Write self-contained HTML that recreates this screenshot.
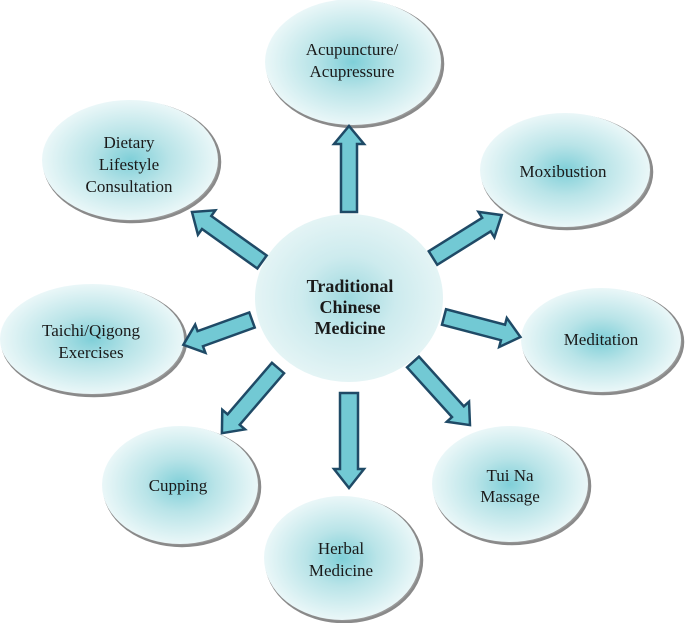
<!DOCTYPE html>
<html><head><meta charset="utf-8"><style>
html,body{margin:0;padding:0;background:#fff;}
svg{display:block;}
text{font-family:"Liberation Serif","Times New Roman","DejaVu Serif","Noto Serif CJK SC",serif;fill:#1a1a1a;font-size:17px;text-anchor:middle;}
</style></head><body>
<svg width="685" height="623" viewBox="0 0 685 623" xmlns="http://www.w3.org/2000/svg">
<defs>
<radialGradient id="g" cx="50%" cy="50%" r="50%">
<stop offset="0" stop-color="#7fcfd8"/>
<stop offset="0.45" stop-color="#b9e4e8"/>
<stop offset="1" stop-color="#eaf7f8"/>
</radialGradient>
<radialGradient id="gc" cx="50%" cy="50%" r="50%">
<stop offset="0" stop-color="#9ed9df"/>
<stop offset="0.5" stop-color="#cdebee"/>
<stop offset="1" stop-color="#e4f4f5"/>
</radialGradient>
</defs>
<g stroke="#8a8a8a" stroke-width="2.5">
<ellipse cx="355" cy="64" rx="88" ry="63" fill="#999"/>
<ellipse cx="567" cy="172" rx="85" ry="57" fill="#999"/>
<ellipse cx="603" cy="342" rx="80" ry="52" fill="#999"/>
<ellipse cx="512" cy="486" rx="78" ry="58" fill="#999"/>
<ellipse cx="344" cy="560" rx="78" ry="62" fill="#999"/>
<ellipse cx="182" cy="487" rx="78" ry="59" fill="#999"/>
<ellipse cx="94" cy="341" rx="92" ry="55" fill="#999"/>
<ellipse cx="132" cy="162" rx="88" ry="60" fill="#999"/>
</g>
<g fill="url(#g)">
<ellipse cx="353" cy="62" rx="88" ry="63"/>
<ellipse cx="565" cy="170" rx="85" ry="57"/>
<ellipse cx="601" cy="340" rx="80" ry="52"/>
<ellipse cx="510" cy="484" rx="78" ry="58"/>
<ellipse cx="342" cy="558" rx="78" ry="62"/>
<ellipse cx="180" cy="485" rx="78" ry="59"/>
<ellipse cx="92" cy="339" rx="92" ry="55"/>
<ellipse cx="130" cy="160" rx="88" ry="60"/>
</g>
<ellipse cx="349" cy="298" rx="94" ry="84" fill="url(#gc)"/>
<g fill="#72c9d4" stroke="#1f4a66" stroke-width="2.5" stroke-linejoin="miter">
<polygon transform="translate(349,212) rotate(-90)" points="0,-8 68,-8 68,-15 86,0 68,15 68,8 0,8"/>
<polygon transform="translate(349,393) rotate(90)" points="0,-9 76,-9 76,-15 95,0 76,15 76,9 0,9"/>
<polygon transform="translate(433,258) rotate(-32)" points="0,-8 63,-8 63,-15 81,0 63,15 63,8 0,8"/>
<polygon transform="translate(444,317) rotate(14.7)" points="0,-8 61,-8 61,-15 79,0 61,15 61,8 0,8"/>
<polygon transform="translate(413,362) rotate(47.9)" points="0,-8 67,-8 67,-15 85,0 67,15 67,8 0,8"/>
<polygon transform="translate(278,368) rotate(130.7)" points="0,-8 68,-8 68,-15 86,0 68,15 68,8 0,8"/>
<polygon transform="translate(252,320) rotate(160.1)" points="0,-8 55,-8 55,-15 73,0 55,15 55,8 0,8"/>
<polygon transform="translate(262,262) rotate(-144.5)" points="0,-8 68,-8 68,-15 86,0 68,15 68,8 0,8"/>
</g>
<g font-family="Liberation Serif, DejaVu Serif, serif">
<text x="350" y="292" font-weight="bold" style="font-size:18px">Traditional</text>
<text x="350" y="313" font-weight="bold" style="font-size:18px">Chinese</text>
<text x="350" y="334" font-weight="bold" style="font-size:18px">Medicine</text>
<text x="352" y="55">Acupuncture/</text>
<text x="352" y="77">Acupressure</text>
<text x="563" y="177">Moxibustion</text>
<text x="601" y="345">Meditation</text>
<text x="510" y="481">Tui Na</text>
<text x="510" y="502">Massage</text>
<text x="341" y="554">Herbal</text>
<text x="341" y="576">Medicine</text>
<text x="178" y="491">Cupping</text>
<text x="91" y="336">Taichi/Qigong</text>
<text x="91" y="358">Exercises</text>
<text x="129" y="148">Dietary</text>
<text x="129" y="170">Lifestyle</text>
<text x="129" y="192">Consultation</text>
</g>
</svg>
</body></html>
